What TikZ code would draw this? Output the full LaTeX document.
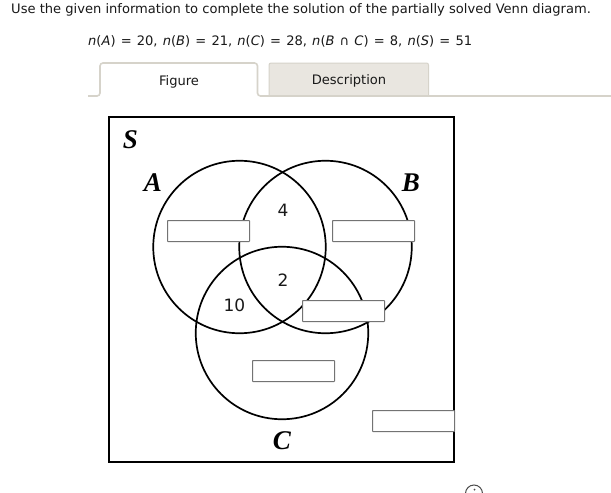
\documentclass[tikz,border=0pt]{standalone}
\usepackage{fontspec}
\setmainfont{DejaVu Sans}
\newfontfamily\lblfont{Liberation Serif}
\newcommand{\vv}[1]{\textit{#1}}
\definecolor{tabedge}{HTML}{D6D3CA}
\definecolor{tabfill}{HTML}{E9E6E0}
\tikzset{
  venn/.style={draw=black,line width=1.7pt},
  answer/.style={draw=black!55,fill=white,line width=1pt,rounded corners=0.5pt,minimum width=82pt,minimum height=21pt,inner sep=0pt,anchor=north west},
  txt/.style={font=\fontsize{13.07}{16}\selectfont,text=black!90,inner sep=0pt},
  num/.style={font=\fontsize{17}{20}\selectfont,text=black!90,inner sep=0pt},
  setlbl/.style={font=\lblfont\fontsize{27}{30}\selectfont\bfseries\itshape,text=black,inner sep=0pt},
  tabline/.style={draw=tabedge,line width=1.6pt},
}
\begin{document}
\begin{tikzpicture}[x=1pt,y=-1pt]
\useasboundingbox (0,0) rectangle (611,493);
\clip (0,0) rectangle (611,493);
\fill[white] (0,0) rectangle (611,493);
\node[txt,anchor=base west] (question) at (11,13) {Use the given information to complete the solution of the partially solved Venn diagram.};
\node[txt,anchor=base west] (data) at (88,45.5) {\spaceskip=5.15pt \vv{n}(\vv{A}) = 20, \vv{n}(\vv{B}) = 21, \vv{n}(\vv{C}) = 28, \vv{n}(\vv{B} ∩ \vv{C}) = 8, \vv{n}(\vv{S}) = 51};
% tabs
\fill[rounded corners=2pt,fill=tabfill] (269,96) -- (269,63) -- (428.5,63) -- (428.5,96) -- cycle;
\draw[tabline,rounded corners=2pt,line width=1pt] (269,96) -- (269,63) -- (428.5,63) -- (428.5,96);
\draw[tabline,rounded corners=3pt] (88,96) -- (100,96) -- (100,63) -- (257.5,63) -- (257.5,96) -- (611,96);
\node[txt] (figtab) at (179,81.5) {Figure};
\node[txt] (desctab) at (349,80.5) {Description};
% universe
\node[draw=black,line width=2pt,minimum width=345pt,minimum height=345pt,inner sep=0pt] (univ) at (281.5,289.5) {};
% circles
\node[venn,circle,minimum size=172.5pt,inner sep=0pt] (cA) at (239.5,247) {};
\node[venn,circle,minimum size=172.5pt,inner sep=0pt] (cB) at (325.5,247) {};
\node[venn,circle,minimum size=172.5pt,inner sep=0pt] (cC) at (282,333) {};
% labels
\node[setlbl] (lS) at (130.5,139.5) {S};
\node[setlbl] (lA) at (153,182.5) {A};
\node[setlbl] (lB) at (411,183) {B};
\node[setlbl] (lC) at (282,440.5) {C};
\node[num] (n4) at (283,210) {4};
\node[num] (n2) at (283,280.5) {2};
\node[num] (n10) at (234.5,305.5) {10};
% answers
\node[answer] (b1) at (167,220) {};
\node[answer] (b2) at (332,220) {};
\node[answer] (b3) at (302,300) {};
\node[answer] (b4) at (252,360) {};
\node[answer] (b5) at (372,410) {};
% info icon
\node[draw=black!70,circle,line width=1pt,minimum size=17pt,inner sep=0pt] (info) at (474,493.5) {};
\fill[black!70] (474.5,489.5) circle (1pt);
\end{tikzpicture}
\end{document}
